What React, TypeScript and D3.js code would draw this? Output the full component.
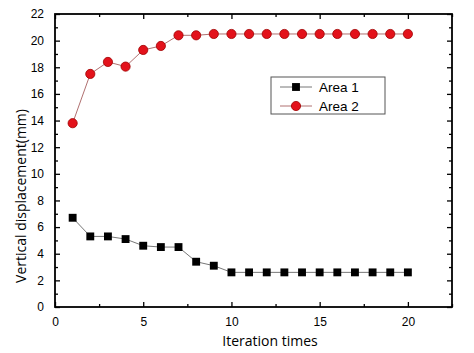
import React, { useEffect, useRef } from "react";
import {
  select,
  scaleLinear,
  line,
  axisBottom,
  axisLeft,
  axisTop,
  axisRight,
  range,
  symbol,
  symbolSquare,
} from "d3";

const iterations = range(1, 21);
const area1 = [6.7, 5.3, 5.3, 5.1, 4.6, 4.5, 4.5, 3.4, 3.1, 2.6, 2.6, 2.6, 2.6, 2.6, 2.6, 2.6, 2.6, 2.6, 2.6, 2.6];
const area2 = [13.8, 17.5, 18.4, 18.05, 19.3, 19.6, 20.4, 20.4, 20.5, 20.5, 20.5, 20.5, 20.5, 20.5, 20.5, 20.5, 20.5, 20.5, 20.5, 20.5];
const xTicks = [0, 5, 10, 15, 20];
const yTicks = [0, 2, 4, 6, 8, 10, 12, 14, 16, 18, 20, 22];
const legendNames = ["Area 1", "Area 2"];

export default function App() {
  const ref = useRef<SVGSVGElement>(null);

  useEffect(() => {
    const svg = select(ref.current);
    svg.selectAll("*").remove();

    const margin = { left: 55, right: 22, top: 14, bottom: 46 };
    const W = 474, H = 353;
    const w = W - margin.left - margin.right;
    const h = H - margin.top - margin.bottom;

    const x = scaleLinear().domain([0, 22.5]).range([0, w]);
    const y = scaleLinear().domain([0, 22]).range([h, 0]);

    const g = svg.append("g").attr("transform", `translate(${margin.left},${margin.top})`);

    const minorX = range(0, 22.6, 2.5).filter(v => !xTicks.includes(v));
    const minorY = range(1, 22, 2);

    const styleAxis = (sel: any) => {
      sel.select(".domain").remove();
      sel.selectAll("line").attr("stroke", "#000").attr("stroke-width", 1.3);
    };

    // bottom
    g.append("g").attr("transform", `translate(0,${h})`)
      .call(axisBottom(x).tickValues(xTicks).tickSize(-5).tickPadding(10))
      .call(styleAxis)
      .selectAll("text").attr("font-family", "Arial, Liberation Sans, sans-serif").attr("font-size", 12).attr("fill", "#000");
    g.append("g").attr("transform", `translate(0,${h})`)
      .call(axisBottom(x).tickValues(minorX).tickSize(-3).tickFormat(() => ""))
      .call(styleAxis);
    // top
    g.append("g")
      .call(axisTop(x).tickValues(xTicks).tickSize(-5).tickFormat(() => ""))
      .call(styleAxis);
    g.append("g")
      .call(axisTop(x).tickValues(minorX).tickSize(-3).tickFormat(() => ""))
      .call(styleAxis);
    // left
    g.append("g")
      .call(axisLeft(y).tickValues(yTicks).tickSize(-5).tickPadding(11))
      .call(styleAxis)
      .selectAll("text").attr("font-family", "Arial, Liberation Sans, sans-serif").attr("font-size", 12).attr("fill", "#000");
    g.append("g")
      .call(axisLeft(y).tickValues(minorY).tickSize(-3).tickFormat(() => ""))
      .call(styleAxis);
    // right
    g.append("g").attr("transform", `translate(${w},0)`)
      .call(axisRight(y).tickValues(yTicks).tickSize(-5).tickFormat(() => ""))
      .call(styleAxis);
    g.append("g").attr("transform", `translate(${w},0)`)
      .call(axisRight(y).tickValues(minorY).tickSize(-3).tickFormat(() => ""))
      .call(styleAxis);

    g.append("rect").attr("width", w).attr("height", h)
      .attr("fill", "none").attr("stroke", "#000").attr("stroke-width", 1.8);

    const lineGen = line<number>().x((_, i) => x(iterations[i])).y(d => y(d));

    g.append("path").attr("d", lineGen(area1)).attr("fill", "none").attr("stroke", "#777").attr("stroke-width", 1);
    g.append("path").attr("d", lineGen(area2)).attr("fill", "none").attr("stroke", "#b07070").attr("stroke-width", 1);

    const sq = symbol().type(symbolSquare).size(62);
    g.selectAll(".sq").data(area1).enter().append("path")
      .attr("d", sq())
      .attr("transform", (d, i) => `translate(${x(iterations[i])},${y(d)})`)
      .attr("fill", "#000");
    g.selectAll(".ci").data(area2).enter().append("circle")
      .attr("cx", (_, i) => x(iterations[i])).attr("cy", d => y(d)).attr("r", 4.6)
      .attr("fill", "#e3121b").attr("stroke", "#a00000").attr("stroke-width", 0.8);

    // legend
    const lg = svg.append("g").attr("transform", "translate(271,77)");
    lg.append("rect").attr("width", 114).attr("height", 37)
      .attr("fill", "#fff").attr("stroke", "#555").attr("stroke-width", 1);
    legendNames.forEach((name, i) => {
      const ly = 10 + i * 19;
      lg.append("line").attr("x1", 9).attr("x2", 41).attr("y1", ly).attr("y2", ly)
        .attr("stroke", i === 0 ? "#777" : "#b07070").attr("stroke-width", 1);
      if (i === 0) {
        lg.append("path").attr("d", sq()).attr("transform", `translate(25,${ly})`).attr("fill", "#000");
      } else {
        lg.append("circle").attr("cx", 25).attr("cy", ly).attr("r", 4.6)
          .attr("fill", "#e3121b").attr("stroke", "#a00000").attr("stroke-width", 0.8);
      }
      lg.append("text").attr("x", 48).attr("y", ly + 5)
        .attr("font-family", "Arial, Liberation Sans, sans-serif").attr("font-size", 13.5)
        .attr("fill", "#000").text(name);
    });

    svg.append("text").attr("x", 270).attr("y", 346).attr("text-anchor", "middle")
      .attr("font-family", "Open Sans, sans-serif").attr("font-size", 14).attr("fill", "#000")
      .text("Iteration times");
    svg.append("text").attr("transform", "translate(26,196) rotate(-90)").attr("text-anchor", "middle")
      .attr("font-family", "Open Sans, sans-serif").attr("font-size", 14).attr("fill", "#000")
      .text("Vertical displacement(mm)");
  }, []);

  return (
    <svg ref={ref} width={474} height={353} style={{ position: "absolute", left: 0, top: 0, background: "#fff" }} />
  );
}
